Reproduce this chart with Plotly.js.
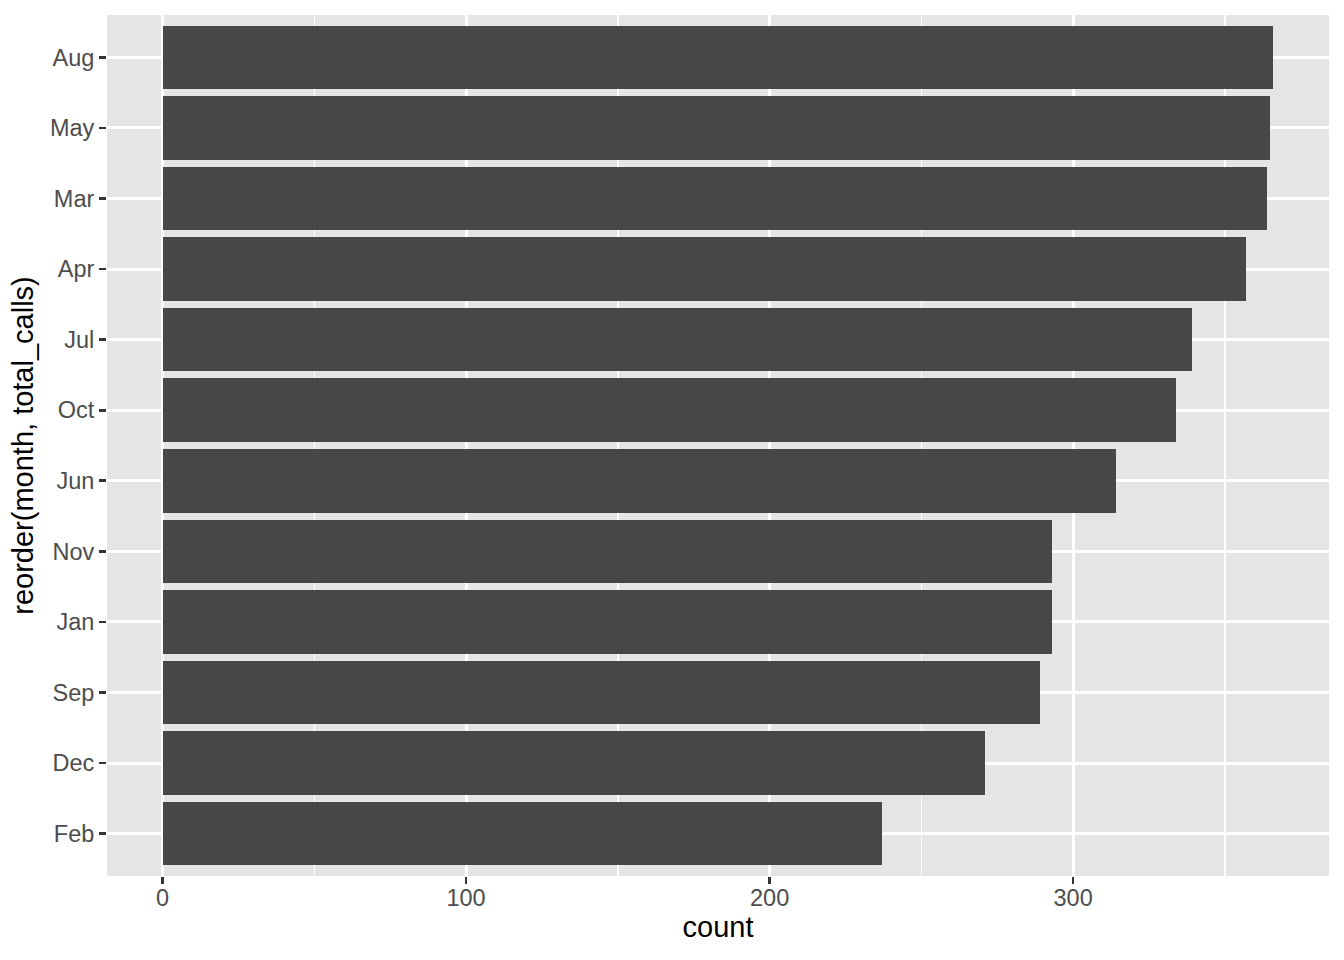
<!DOCTYPE html>
<html>
<head>
<meta charset="utf-8">
<script src="https://cdn.plot.ly/plotly-3.0.1.min.js"></script>
<style>html,body{margin:0;padding:0;background:#fff;}#chart{width:1344px;height:960px;}</style>
</head>
<body>
<div id="chart"></div>
<script>
// Months ordered bottom -> top (reorder by count)
var months = ["Feb", "Dec", "Sep", "Jan", "Nov", "Jun", "Oct", "Jul", "Apr", "Mar", "May", "Aug"];
var counts = [237, 271, 289, 293, 293, 314, 334, 339, 357, 364, 365, 366];
var xTickVals = [0, 100, 200, 300];
var xTickText = ["0", "100", "200", "300"];

var maxVal = Math.max.apply(null, counts);

var trace = {
  type: "bar",
  orientation: "h",
  x: counts,
  y: months,
  width: 0.9,
  marker: {color: "#474747", line: {width: 0}},
  hoverinfo: "x+y"
};

var tickFont = {family: "Liberation Sans, Arial, sans-serif", size: 23.5, color: "#4D4D4D"};
var titleFont = {family: "Liberation Sans, Arial, sans-serif", size: 29, color: "#000000"};

var layout = {
  width: 1344,
  height: 960,
  margin: {l: 107, r: 15, t: 15, b: 84},
  paper_bgcolor: "#FFFFFF",
  plot_bgcolor: "#E5E5E5",
  showlegend: false,
  bargap: 0,
  xaxis: {
    range: [-0.05 * maxVal, 1.05 * maxVal],
    tickmode: "array",
    tickvals: xTickVals,
    ticktext: xTickText,
    ticks: "outside",
    ticklen: 7,
    tickwidth: 2.7,
    tickcolor: "#333333",
    tickfont: tickFont,
    ticklabelstandoff: -6,
    showgrid: true,
    gridcolor: "#FFFFFF",
    gridwidth: 3,
    zeroline: false,
    showline: false,
    minor: {tickmode: "linear", tick0: 0, dtick: 50, showgrid: true, gridcolor: "#FFFFFF", gridwidth: 1.5, ticks: ""},
    title: {text: "count", font: titleFont, standoff: 5},
    automargin: false,
    fixedrange: true
  },
  yaxis: {
    type: "category",
    categoryorder: "array",
    categoryarray: months,
    range: [-0.6, months.length - 0.4],
    ticks: "outside",
    ticklen: 7,
    tickwidth: 2.7,
    tickcolor: "#333333",
    tickfont: tickFont,
    showgrid: true,
    gridcolor: "#FFFFFF",
    gridwidth: 3,
    zeroline: false,
    showline: false,
    title: {text: "reorder(month, total_calls)", font: titleFont, standoff: 7},
    automargin: false,
    fixedrange: true
  }
};

Plotly.newPlot("chart", [trace], layout, {displayModeBar: false, staticPlot: true});
</script>
</body>
</html>
